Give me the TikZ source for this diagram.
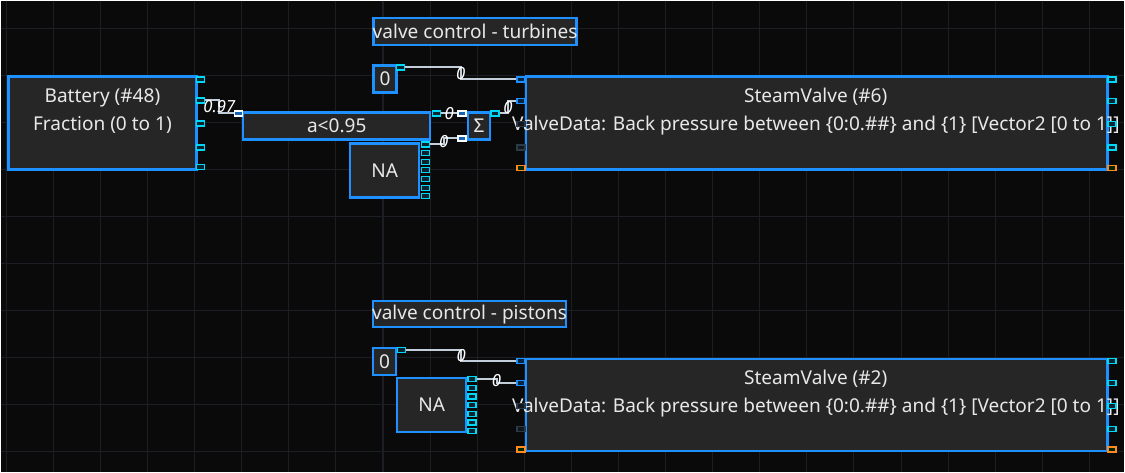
\documentclass[tikz,border=0pt]{standalone}
\usepackage{fontspec}
\setmainfont{Noto Sans}
\usepackage{xcolor}
\usetikzlibrary{positioning, calc}

\definecolor{bgcol}{HTML}{0A0A0A}
\definecolor{gridcol}{HTML}{1B1F23}
\definecolor{boxblue}{HTML}{1E90FF}
\definecolor{boxfill}{HTML}{262626}
\definecolor{boxtext}{HTML}{E8E8E8}
\definecolor{pincyan}{HTML}{00D8F8}
\definecolor{pinfill}{HTML}{0C2430}
\definecolor{pindim}{HTML}{2B3A48}
\definecolor{pinorange}{HTML}{FF8A1F}
\definecolor{wirecol}{HTML}{C2CEDA}

\newcommand{\boxfont}{\fontsize{10.85}{15.9}\selectfont}
\newcommand{\wirefont}{\fontsize{9.5}{11}\selectfont\bfseries\itshape}

\begin{document}
\begin{tikzpicture}[
        x=0.02cm, y=-0.02cm,
        box/.style={draw=boxblue, fill=boxfill, line width=1.35pt, inner sep=0pt},
        boxlabel/.style={text=boxtext, font=\boxfont, align=center, inner sep=0pt},
        pin/.style={rectangle, minimum width=8*\pxu, minimum height=5*\pxu, inner sep=0pt,
            line width=0.7pt, draw=pincyan, fill=pinfill},
        pinin/.style={pin, draw=white, fill=boxblue!70!black},
        pinblue/.style={pin, draw=boxblue, fill=boxblue!25!black},
        pindark/.style={pin, draw=pindim, fill=pindim!40!black},
        pinorng/.style={pin, draw=pinorange, fill=green!15!black},
        wire/.style={draw=wirecol, line width=1.1pt},
        wlabel/.style={text=white, font=\wirefont, inner sep=0pt}
    ]
        \def\pxu{0.02cm}

        % background and grid
        \fill[bgcol] (0,0) rectangle (1125,472);
        \foreach \i in {0,...,23}
            \draw[gridcol, line width=0.6pt] ({5.7+47.14*\i},0) -- ({5.7+47.14*\i},472);
        \foreach \j in {0,...,9}
            \draw[gridcol, line width=0.6pt] (0,{28+47*\j}) -- (1125,{28+47*\j});

        % turbines
        \node[box, minimum width=203*\pxu, minimum height=27*\pxu] (title1) at (475,31) {};
        \node[boxlabel] at (title1) {valve control - turbines};
        \node[box, minimum width=188*\pxu, minimum height=93*\pxu] (bat) at (102,122.5) {};
        \node[boxlabel] at (102,111) {Battery (\#48)\\Fraction (0 to 1)};
        \node[box, minimum width=187*\pxu, minimum height=27*\pxu] (cmp) at (336.5,125.5) {};
        \node[boxlabel] at (cmp) {a<0.95};
        \node[box, minimum width=22*\pxu, minimum height=27*\pxu] (sum) at (479,125.5) {};
        \node[boxlabel] at (sum) {Σ};
        \node[box, minimum width=69*\pxu, minimum height=54*\pxu] (na1) at (384.5,170) {};
        \node[boxlabel] at (na1) {NA};
        \node[box, minimum width=23*\pxu, minimum height=27*\pxu] (zero1) at (385,78.5) {};
        \node[boxlabel] at (zero1) {0};
        \node[box, minimum width=582*\pxu, minimum height=93*\pxu] (valve1) at (817,122.5) {};
        \node[boxlabel] at (816,111) {SteamValve (\#6)\\ValveData: Back pressure between \{0:0.\#\#\} and \{1\} [Vector2 [0 to 1]]};

        % pistons
        \node[box, minimum width=193*\pxu, minimum height=26*\pxu] (title2) at (469.5,314) {};
        \node[boxlabel] at (title2) {valve control - pistons};
        \node[box, minimum width=23*\pxu, minimum height=27*\pxu] (zero2) at (384.5,361.5) {};
        \node[boxlabel] at (zero2) {0};
        \node[box, minimum width=69*\pxu, minimum height=54*\pxu] (na2) at (431.5,405) {};
        \node[boxlabel] at (na2) {NA};
        \node[box, minimum width=582*\pxu, minimum height=92*\pxu] (valve2) at (817,405) {};
        \node[boxlabel] at (816,393.5) {SteamValve (\#2)\\ValveData: Back pressure between \{0:0.\#\#\} and \{1\} [Vector2 [0 to 1]]};

        % pins
        \foreach \y [count=\k] in {79,100,123,147,167}
            \node[pin] (bat-o\k) at (200,\y) {};
        \node[pinin] (cmp-in) at (238,113) {};
        \node[pin] (cmp-out) at (436,113) {};
        \node[pinin] (sum-in1) at (462,113) {};
        \node[pinin] (sum-in2) at (462,138) {};
        \node[pin] (sum-out) at (495,113) {};
        \node[pin] (zero1-out) at (400,67) {};
        \node[pin] (zero2-out) at (401,350) {};
        \foreach \k in {1,...,7} {
            \node[pin] (na1-o\k) at (425,{144+8.67*(\k-1)}) {};
            \node[pin] (na2-o\k) at (472,{379+8.67*(\k-1)}) {};
        }
        \foreach \v/\y in {valve1/79, valve2/361} {
            \node[pinblue] (\v-in1) at (521,\y) {};
            \node[pinblue] (\v-in2) at (521,\y+21.5) {};
            \node[pindark] (\v-in3) at (521,\y+44.5) {};
            \node[pindark] (\v-in4) at (521,\y+68) {};
            \node[pinorng] (\v-in5) at (521,\y+88.5) {};
            \foreach \d [count=\k] in {0,21.5,44.5,68}
                \node[pin] (\v-o\k) at (1112.5,\y+\d) {};
            \node[pinorng] (\v-o5) at (1112.5,\y+88.5) {};
        }

        % wires
        \foreach \a/\b/\t in {bat-o2/cmp-in/0.97, cmp-out/sum-in1/0, na1-o1/sum-in2/0,
                zero1-out/valve1-in1/0, sum-out/valve1-in2/0,
                zero2-out/valve2-in1/0, na2-o1/valve2-in2/0}
            \draw[wire] (\a.east) -| ($(\a.east)!.5!(\b.west)$) node[wlabel] {\t} |- (\b.west);
    \end{tikzpicture}
\end{document}
